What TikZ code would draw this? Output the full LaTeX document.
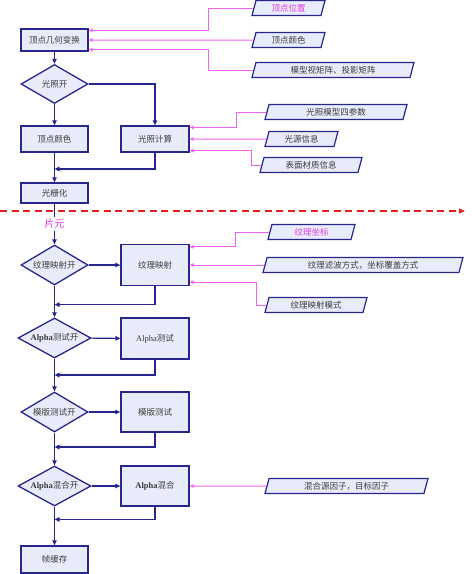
\documentclass[tikz,border=0pt]{standalone}
\usepackage{fontspec}
\setmainfont{Noto Sans CJK SC}
\newfontfamily\lat{Liberation Serif}
\usepackage{tikz}
\usetikzlibrary{shapes.geometric, arrows.meta, positioning, calc}
\definecolor{shenlan}{RGB}{38, 38, 140}
\definecolor{qianlan}{RGB}{232, 236, 250}
\definecolor{fenhong}{RGB}{240, 100, 240}
\definecolor{zihong}{RGB}{225, 60, 225}
\definecolor{hongse}{RGB}{230, 30, 30}
\definecolor{wenzi}{RGB}{60, 60, 60}

\begin{document}
\begin{tikzpicture}[x=1pt, y=-1pt,
        every node/.style={font=\fontsize{8.5}{10}\selectfont, text=wenzi, inner sep=1pt},
        kuang/.style={rectangle, draw=shenlan, fill=qianlan, line width=1.3pt, minimum width=67pt, align=center},
        ling/.style={diamond, draw=shenlan, fill=qianlan, line width=1.3pt, inner sep=0pt, shape aspect=1.7,
            minimum width=67pt, minimum height=40pt},
        canshu/.style={trapezium, trapezium left angle=68, trapezium right angle=112, trapezium stretches body,
            draw=shenlan, fill=qianlan, line width=1.2pt, minimum height=15pt},
        jiantou/.style={-{Triangle[length=5pt, width=4.5pt]}, draw=shenlan, line width=1.1pt},
        fen/.style={-{Triangle[length=4pt, width=3.5pt]}, draw=fenhong, line width=1pt}]
        \useasboundingbox (0,0) rectangle (474,574);
        % vertex stage
        \node[kuang, minimum height=22pt] (bianhuan) at (54.5,40) {顶点几何变换};
        \node[ling, minimum height=39pt] (guangkai) at (54.5,84) {光照开};
        \node[kuang, minimum height=26pt] (yanse) at (54.5,139) {顶点颜色};
        \node[kuang, minimum width=68pt, minimum height=26pt] (jisuan) at (155,139) {光照计算};
        \node[kuang, minimum height=20pt] (shange) at (54.5,193) {光栅化};
        % fragment stage
        \node[ling] (wenkai) at (54.5,265) {纹理映射开};
        \node[kuang, minimum width=68pt, minimum height=41pt] (wenli) at (155,265) {纹理映射};
        \node[ling, minimum width=73pt] (alkai) at (54.5,338) {{\lat\bfseries Alpha}测试开};
        \node[kuang, minimum width=68pt, minimum height=41pt] (alce) at (155,338.5) {{\lat Alpha}测试};
        \node[ling] (mukai) at (54.5,412) {模版测试开};
        \node[kuang, minimum width=68pt, minimum height=40pt] (moce) at (155,412) {模版测试};
        \node[ling, minimum width=73pt] (hunkai) at (54.5,486) {{\lat\bfseries Alpha}混合开};
        \node[kuang, minimum width=68pt, minimum height=40pt] (hunhe) at (155,486) {{\lat\bfseries Alpha}混合};
        \node[kuang, minimum height=27pt] (zhen) at (54.5,559.5) {帧缓存};
        % parameters
        \node[canshu, minimum width=73pt, text=zihong] (p1) at (288.5,8) {顶点位置};
        \node[canshu, minimum width=73pt] (p2) at (288.5,40) {顶点颜色};
        \node[canshu, minimum width=162pt] (p3) at (333,70) {模型视矩阵、投影矩阵};
        \node[canshu, minimum width=142pt] (p4) at (336,112) {光照模型四参数};
        \node[canshu, minimum width=73pt] (p5) at (301.5,139) {光源信息};
        \node[canshu, minimum width=102pt] (p6) at (311,165) {表面材质信息};
        \node[canshu, minimum width=87pt, text=zihong] (p7) at (311.5,232) {纹理坐标};
        \node[canshu, minimum width=200pt] (p8) at (363,265) {纹理滤波方式，坐标覆盖方式};
        \node[canshu, minimum width=102pt] (p9) at (316,305) {纹理映射模式};
        \node[canshu, minimum width=163pt] (p10) at (346.5,486) {混合源因子，目标因子};
        % separator
        \coordinate (fenjie) at (0,211);
        \draw[hongse, line width=1.1pt, dash pattern=on 7pt off 4.5pt, -{Triangle[length=6pt, width=5pt]}] (fenjie) -- ++(465,0);
        % main flow
        \draw[jiantou] (bianhuan) -- (guangkai);
        \draw[jiantou] (guangkai) -- (yanse);
        \draw[jiantou] (guangkai.east) -| (jisuan.north);
        \draw[jiantou] (yanse) -- (shange);
        \draw[jiantou] (jisuan.south) |- ($(yanse.south)!.55!(shange.north)$);
        \draw[jiantou] (shange) -- node[fill=white, text=zihong, font=\fontsize{10}{12}\selectfont, inner sep=2pt] {片元} (wenkai);
        \draw[jiantou] (wenkai) -- (wenli);
        \draw[jiantou] (wenkai) -- (alkai);
        \draw[jiantou] (wenli.south) |- ($(wenkai.south)!.6!(alkai.north)$);
        \draw[jiantou] (alkai) -- (alce);
        \draw[jiantou] (alkai) -- (mukai);
        \draw[jiantou] (alce.south) |- ($(alkai.south)!.5!(mukai.north)$);
        \draw[jiantou] (mukai) -- (moce);
        \draw[jiantou] (mukai) -- (hunkai);
        \draw[jiantou] (moce.south) |- ($(mukai.south)!.44!(hunkai.north)$);
        \draw[jiantou] (hunkai) -- (hunhe);
        \draw[jiantou] (hunkai) -- (zhen);
        \draw[jiantou] (hunhe.south) |- ($(hunkai.south)!.33!(zhen.north)$);
        % parameter inputs
        \draw[fen] (p1.west) -- ++(-45,0) |- ([yshift=-2pt]bianhuan.north east);
        \draw[fen] (p2.west) -- (bianhuan.east);
        \draw[fen] (p3.west) -- ++(-45,0) |- ([yshift=2pt]bianhuan.south east);
        \draw[fen] (p4.west) -- ++(-30,0) |- ([yshift=-2pt]jisuan.north east);
        \draw[fen] (p5.west) -- (jisuan.east);
        \draw[fen] (p6.west) -- ++(-10,0) |- ([yshift=2pt]jisuan.south east);
        \draw[fen] (p7.west) -- ++(-34,0) |- ([yshift=-3pt]wenli.north east);
        \draw[fen] (p8.west) -- (wenli.east);
        \draw[fen] (p9.west) -- ++(-10,0) |- ([yshift=4pt]wenli.south east);
        \draw[fen] (p10.west) -- (hunhe.east);
    \end{tikzpicture}
\end{document}
